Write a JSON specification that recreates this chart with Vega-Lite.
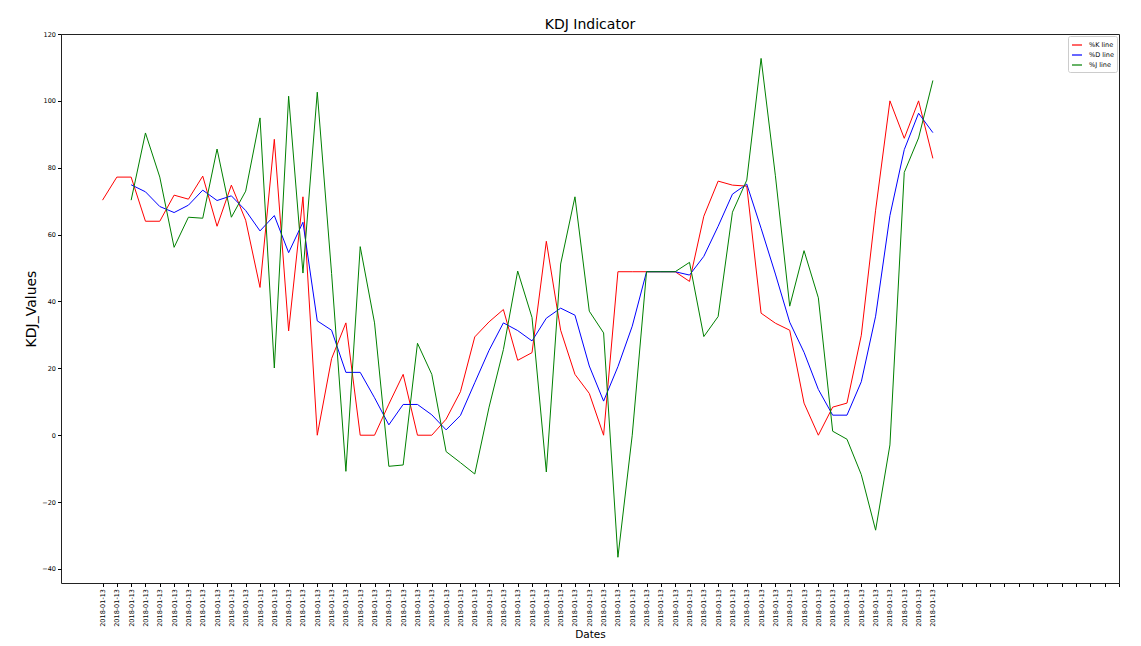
{
  "$schema": "https://vega.github.io/schema/vega-lite/v6.json",
  "width": 1058,
  "height": 549,
  "autosize": "none",
  "padding": {"left": 61, "top": 34, "right": 22, "bottom": 63},
  "background": "white",
  "title": {"text": "KDJ Indicator", "fontSize": 14, "fontWeight": "normal", "color": "black", "offset": -1, "anchor": "middle"},
  "data": {"values": [
    {"i":0,"s":"%K line","v":70.3},{"i":1,"s":"%K line","v":77.2},{"i":2,"s":"%K line","v":77.2},{"i":3,"s":"%K line","v":64.0},{"i":4,"s":"%K line","v":64.0},
    {"i":5,"s":"%K line","v":71.8},{"i":6,"s":"%K line","v":70.6},{"i":7,"s":"%K line","v":77.5},{"i":8,"s":"%K line","v":62.5},{"i":9,"s":"%K line","v":74.8},
    {"i":10,"s":"%K line","v":64.3},{"i":11,"s":"%K line","v":44.2},{"i":12,"s":"%K line","v":88.5},{"i":13,"s":"%K line","v":31.2},{"i":14,"s":"%K line","v":71.3},
    {"i":15,"s":"%K line","v":0},{"i":16,"s":"%K line","v":22.9},{"i":17,"s":"%K line","v":33.6},{"i":18,"s":"%K line","v":0},{"i":19,"s":"%K line","v":0},
    {"i":20,"s":"%K line","v":9.3},{"i":21,"s":"%K line","v":18.2},{"i":22,"s":"%K line","v":0},{"i":23,"s":"%K line","v":0},{"i":24,"s":"%K line","v":4.8},
    {"i":25,"s":"%K line","v":13.0},{"i":26,"s":"%K line","v":29.4},{"i":27,"s":"%K line","v":33.9},{"i":28,"s":"%K line","v":37.6},{"i":29,"s":"%K line","v":22.4},
    {"i":30,"s":"%K line","v":24.7},{"i":31,"s":"%K line","v":58.0},{"i":32,"s":"%K line","v":31.4},{"i":33,"s":"%K line","v":18.2},{"i":34,"s":"%K line","v":12.5},
    {"i":35,"s":"%K line","v":0},{"i":36,"s":"%K line","v":48.9},{"i":37,"s":"%K line","v":48.9},{"i":38,"s":"%K line","v":48.9},{"i":39,"s":"%K line","v":48.9},
    {"i":40,"s":"%K line","v":48.9},{"i":41,"s":"%K line","v":46.0},{"i":42,"s":"%K line","v":65.5},{"i":43,"s":"%K line","v":76.0},{"i":44,"s":"%K line","v":74.8},
    {"i":45,"s":"%K line","v":74.5},{"i":46,"s":"%K line","v":36.5},{"i":47,"s":"%K line","v":33.5},{"i":48,"s":"%K line","v":31.4},{"i":49,"s":"%K line","v":9.6},
    {"i":50,"s":"%K line","v":0},{"i":51,"s":"%K line","v":8.4},{"i":52,"s":"%K line","v":9.6},{"i":53,"s":"%K line","v":29.9},{"i":54,"s":"%K line","v":67.3},
    {"i":55,"s":"%K line","v":100},{"i":56,"s":"%K line","v":88.8},{"i":57,"s":"%K line","v":100},{"i":58,"s":"%K line","v":82.8},

    {"i":2,"s":"%D line","v":74.9},{"i":3,"s":"%D line","v":72.8},{"i":4,"s":"%D line","v":68.4},
    {"i":5,"s":"%D line","v":66.6},{"i":6,"s":"%D line","v":68.8},{"i":7,"s":"%D line","v":73.3},{"i":8,"s":"%D line","v":70.2},{"i":9,"s":"%D line","v":71.6},
    {"i":10,"s":"%D line","v":67.2},{"i":11,"s":"%D line","v":61.1},{"i":12,"s":"%D line","v":65.7},{"i":13,"s":"%D line","v":54.6},{"i":14,"s":"%D line","v":63.7},
    {"i":15,"s":"%D line","v":34.2},{"i":16,"s":"%D line","v":31.4},{"i":17,"s":"%D line","v":18.8},{"i":18,"s":"%D line","v":18.8},{"i":19,"s":"%D line","v":11.2},
    {"i":20,"s":"%D line","v":3.1},{"i":21,"s":"%D line","v":9.2},{"i":22,"s":"%D line","v":9.2},{"i":23,"s":"%D line","v":6.1},{"i":24,"s":"%D line","v":1.6},
    {"i":25,"s":"%D line","v":5.9},{"i":26,"s":"%D line","v":15.7},{"i":27,"s":"%D line","v":25.4},{"i":28,"s":"%D line","v":33.6},{"i":29,"s":"%D line","v":31.3},
    {"i":30,"s":"%D line","v":28.2},{"i":31,"s":"%D line","v":35.0},{"i":32,"s":"%D line","v":38.0},{"i":33,"s":"%D line","v":35.9},{"i":34,"s":"%D line","v":20.7},
    {"i":35,"s":"%D line","v":10.2},{"i":36,"s":"%D line","v":20.5},{"i":37,"s":"%D line","v":32.6},{"i":38,"s":"%D line","v":48.9},{"i":39,"s":"%D line","v":48.9},
    {"i":40,"s":"%D line","v":48.9},{"i":41,"s":"%D line","v":47.9},{"i":42,"s":"%D line","v":53.5},{"i":43,"s":"%D line","v":62.5},{"i":44,"s":"%D line","v":72.1},
    {"i":45,"s":"%D line","v":75.1},{"i":46,"s":"%D line","v":61.9},{"i":47,"s":"%D line","v":48.2},{"i":48,"s":"%D line","v":33.8},{"i":49,"s":"%D line","v":24.8},
    {"i":50,"s":"%D line","v":13.7},{"i":51,"s":"%D line","v":6.0},{"i":52,"s":"%D line","v":6.0},{"i":53,"s":"%D line","v":16.0},{"i":54,"s":"%D line","v":35.6},
    {"i":55,"s":"%D line","v":65.7},{"i":56,"s":"%D line","v":85.4},{"i":57,"s":"%D line","v":96.3},{"i":58,"s":"%D line","v":90.5},

    {"i":2,"s":"%J line","v":70.3},{"i":3,"s":"%J line","v":90.4},{"i":4,"s":"%J line","v":77.2},
    {"i":5,"s":"%J line","v":56.2},{"i":6,"s":"%J line","v":65.2},{"i":7,"s":"%J line","v":64.9},{"i":8,"s":"%J line","v":85.6},{"i":9,"s":"%J line","v":65.2},
    {"i":10,"s":"%J line","v":73.0},{"i":11,"s":"%J line","v":94.9},{"i":12,"s":"%J line","v":20.1},{"i":13,"s":"%J line","v":101.4},{"i":14,"s":"%J line","v":48.5},
    {"i":15,"s":"%J line","v":102.6},{"i":16,"s":"%J line","v":48.4},{"i":17,"s":"%J line","v":-10.8},{"i":18,"s":"%J line","v":56.4},{"i":19,"s":"%J line","v":33.6},
    {"i":20,"s":"%J line","v":-9.3},{"i":21,"s":"%J line","v":-8.9},{"i":22,"s":"%J line","v":27.5},{"i":23,"s":"%J line","v":18.2},{"i":24,"s":"%J line","v":-4.9},
    {"i":25,"s":"%J line","v":-8.2},{"i":26,"s":"%J line","v":-11.6},{"i":27,"s":"%J line","v":8.4},{"i":28,"s":"%J line","v":25.6},{"i":29,"s":"%J line","v":49.1},
    {"i":30,"s":"%J line","v":35.2},{"i":31,"s":"%J line","v":-11.0},{"i":32,"s":"%J line","v":51.2},{"i":33,"s":"%J line","v":71.3},{"i":34,"s":"%J line","v":37.1},
    {"i":35,"s":"%J line","v":30.6},{"i":36,"s":"%J line","v":-36.5},{"i":37,"s":"%J line","v":0},{"i":38,"s":"%J line","v":48.9},{"i":39,"s":"%J line","v":48.9},
    {"i":40,"s":"%J line","v":48.9},{"i":41,"s":"%J line","v":51.7},{"i":42,"s":"%J line","v":29.5},{"i":43,"s":"%J line","v":35.5},{"i":44,"s":"%J line","v":66.7},
    {"i":45,"s":"%J line","v":76.3},{"i":46,"s":"%J line","v":112.7},{"i":47,"s":"%J line","v":77.6},{"i":48,"s":"%J line","v":38.6},{"i":49,"s":"%J line","v":55.2},
    {"i":50,"s":"%J line","v":41.1},{"i":51,"s":"%J line","v":1.2},{"i":52,"s":"%J line","v":-1.2},{"i":53,"s":"%J line","v":-11.8},{"i":54,"s":"%J line","v":-28.4},
    {"i":55,"s":"%J line","v":-2.9},{"i":56,"s":"%J line","v":78.6},{"i":57,"s":"%J line","v":88.9},{"i":58,"s":"%J line","v":106.1}
  ]},
  "mark": {"type": "line", "strokeWidth": 1, "interpolate": "linear"},
  "encoding": {
    "x": {
      "field": "i", "type": "quantitative",
      "scale": {"domain": [-2.9, 71], "nice": false, "zero": false},
      "axis": {
        "title": "Dates", "titleFontSize": 10.5, "titleFontWeight": "normal", "titleColor": "black", "titlePadding": 3,
        "values": [0,1,2,3,4,5,6,7,8,9,10,11,12,13,14,15,16,17,18,19,20,21,22,23,24,25,26,27,28,29,30,31,32,33,34,35,36,37,38,39,40,41,42,43,44,45,46,47,48,49,50,51,52,53,54,55,56,57,58,59,60,61,62,63,64,65,66,67,68,69,70,71],
        "labelExpr": "datum.value <= 58 ? '2018-01-13' : ''",
        "labelAngle": 270, "labelFontSize": 6.5, "labelColor": "black", "labelPadding": 2,
        "labelOverlap": false, "labelFlush": false, "labelBound": false,
        "tickSize": 3.5, "tickColor": "black", "grid": false, "domain": false
      }
    },
    "y": {
      "field": "v", "type": "quantitative",
      "scale": {"domain": [-44.2, 120], "nice": false, "zero": false},
      "axis": {
        "title": "KDJ_Values", "titleFontSize": 14, "titleFontWeight": "normal", "titleColor": "black", "titlePadding": 3,
        "values": [-40,-20,0,20,40,60,80,100,120],
        "labelFontSize": 6.5, "labelColor": "black", "labelPadding": 2,
        "tickSize": 3.5, "tickColor": "black", "grid": false, "domain": false
      }
    },
    "color": {
      "field": "s", "type": "nominal",
      "scale": {"domain": ["%K line", "%D line", "%J line"], "range": ["#ff0000", "#0000ff", "#008000"]},
      "legend": {
        "title": null, "orient": "top-right", "offset": 2,
        "symbolType": "stroke", "symbolSize": 100, "symbolStrokeWidth": 1.2,
        "labelFontSize": 6.5, "labelColor": "black", "labelOffset": 6,
        "rowPadding": 0, "padding": 3,
        "strokeColor": "#cccccc", "fillColor": "white", "cornerRadius": 2
      }
    }
  },
  "config": {
    "font": "DejaVu Sans",
    "view": {"stroke": "#222222", "strokeWidth": 1}
  }
}
